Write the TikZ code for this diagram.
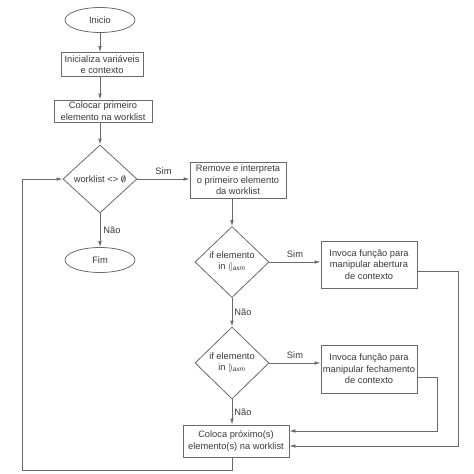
\documentclass[tikz,border=0pt]{standalone}
\usepackage{fontspec}
\setmainfont{Liberation Sans}
\usepackage{amsmath}
\usepackage{xcolor}
\usepackage{tikz}
\usetikzlibrary{positioning,arrows.meta,shapes.geometric}
\definecolor{ink}{HTML}{3A3A3A}
\definecolor{wire}{HTML}{6A6A6A}
\newcommand{\axmopen}{\ensuremath{(\!|_{\mathit{axm}}}}
\newcommand{\axmclose}{\ensuremath{|\!)_{\mathit{axm}}}}
\tikzset{
  txt/.style={font=\fontsize{9.3}{11.5}\selectfont, text=ink},
  stepbox/.style={txt, draw=wire, line width=0.8pt, align=center,
    inner sep=1pt, minimum width=#1},
  stepbox/.default=96pt,
  terminal/.style={txt, draw=wire, line width=0.8pt, ellipse,
    minimum width=70pt, minimum height=25pt, inner sep=0pt},
  decision/.style={txt, draw=wire, line width=0.8pt, diamond, align=center,
    inner sep=0pt, minimum width=74pt, minimum height=70pt},
  flow/.style={draw=wire, line width=0.8pt, -{Latex[length=6pt,width=3.6pt]}},
  lbl/.style={txt, inner sep=1pt},
}

\begin{document}
\begin{tikzpicture}[x=1pt, y=-1pt]
  \useasboundingbox[fill=white] (0,0) rectangle (474,474);

  % main column
  \node[terminal] (inicio) at (100,20) {Inicio};
  \node[stepbox=82pt, minimum height=24pt] (init) at (102,64.5)
    {Inicializa variáveis\\e contexto};
  \node[stepbox=98pt, minimum height=22pt] (first) at (103,111)
    {Colocar primeiro\\elemento na worklist};
  \node[decision, minimum height=68pt] (test) at (100,179)
    {worklist <> $\boldsymbol{\emptyset}$};
  \node[terminal] (fim) at (100,260) {Fim};

  % worklist processing
  \node[stepbox=96pt, minimum height=36pt] (remove) at (238,180)
    {Remove e interpreta\\o primeiro elemento\\da worklist};
  \node[decision, minimum height=71pt] (inopen) at (232,262)
    {if elemento\\in \axmopen};
  \node[stepbox=96pt, minimum height=47pt] (abre) at (369,264.5)
    {Invoca função para\\manipular abertura\\de contexto};
  \node[decision, minimum height=72pt] (inclose) at (232,363)
    {if elemento\\in \axmclose};
  \node[stepbox=96pt, minimum height=48pt] (fecha) at (369,369)
    {Invoca função para\\manipular fechamento\\de contexto};
  \node[stepbox=106pt, minimum height=32pt] (next) at (236,441)
    {Coloca próximo(s)\\elemento(s) na worklist};

  \coordinate (abreout) at ([yshift=-7pt]abre.east);
  \coordinate (fechaout) at ([yshift=-8pt]fecha.east);
  \coordinate (outerturn) at (458,446);
  \coordinate (innerturn) at (437,431);
  \coordinate (loopturn) at (22,470);

  \draw[flow] (inicio) -- (inicio |- init.north);
  \draw[flow] (inicio |- init.south) -- (inicio |- first.north);
  \draw[flow] (inicio |- first.south) -- (test.north);

  \draw[flow] (test.east) -- (test.east -| remove.west)
    node[lbl, midway, above=3pt] {Sim};
  \draw[flow] (test.south) -- (fim.north)
    node[lbl, midway, right=2pt] {Não};

  \draw[flow] (inopen.north |- remove.south) -- (inopen.north);
  \draw[flow] (inopen.east) -- (inopen.east -| abre.west)
    node[lbl, midway, above=3pt] {Sim};
  \draw[flow] (inopen.south) -- (inclose.north)
    node[lbl, midway, right=1pt] {Não};
  \draw[flow] (inclose.east) -- (inclose.east -| fecha.west)
    node[lbl, midway, above=3pt] {Sim};
  \draw[flow] (inclose.south) -- (inclose.south |- next.north)
    node[lbl, midway, right=1pt] {Não};

  % back to the worklist
  \draw[flow] (abreout) -- (abreout -| outerturn) -- (outerturn)
    -- (outerturn -| next.east);
  \draw[flow] (fechaout) -- (fechaout -| innerturn) -- (innerturn)
    -- (innerturn -| next.east);
  \draw[flow] (inclose.south |- next.south) -- (inclose.south |- loopturn)
    -- (loopturn) -- (loopturn |- test.west) -- (test.west);
\end{tikzpicture}
\end{document}
